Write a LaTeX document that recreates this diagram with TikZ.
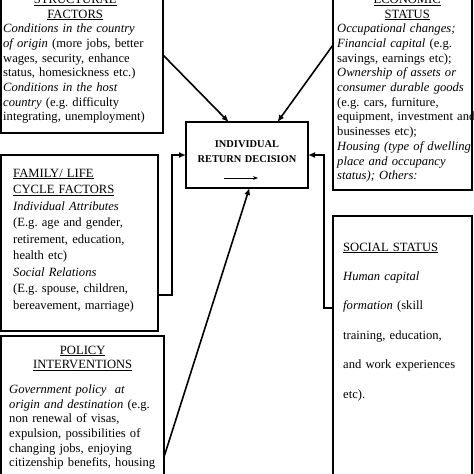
\documentclass[tikz,border=0pt]{standalone}
\usepackage{fontspec}
\setmainfont{Liberation Serif}
\usetikzlibrary{arrows.meta, positioning, calc}
\frenchspacing

\begin{document}
\begin{tikzpicture}[
    x=1pt, y=-1pt,
    box/.style={draw, line width=1.8pt, anchor=north west, inner sep=0pt, outer sep=0pt},
    txt/.style={anchor=base west, inner sep=0pt, text width=200pt, align=left, font=\fontsize{12.6}{14.7}\selectfont},
    arr/.style={-{Latex[length=7pt, width=6pt]}, line width=1.6pt}
]
    \useasboundingbox (0,0) rectangle (474,474);
    \clip (0,0) rectangle (474,474);

    % boxes
    \node[box, minimum width=162pt, minimum height=156pt] (struct) at (1,-23) {};
    \node[box, minimum width=139pt, minimum height=290pt] (econ) at (333,-100) {};
    \node[box, minimum width=157pt, minimum height=176pt] (family) at (1,155) {};
    \node[box, minimum width=163pt, minimum height=242pt] (policy) at (1,336) {};
    \node[box, minimum width=139pt, minimum height=300pt] (social) at (333,216) {};
    \node[box, minimum width=122pt, minimum height=66pt] (decision) at (186,122) {};

    % texts
    \node[txt] (structtxt) at (3,3.3) {\makebox[144pt]{\underline{STRUCTURAL}}\\
        \makebox[144pt]{\underline{FACTORS}}\\
        \textit{Conditions in the country}\\
        \textit{of origin} (more jobs, better\\
        wages, security, enhance\\
        status, homesickness etc.)\\
        \textit{Conditions in the host}\\
        \textit{country} (e.g. difficulty\\
        integrating, unemployment)};
    \node[txt] (econtxt) at (337,3.3) {\makebox[140pt]{\underline{ECONOMIC}}\\
        \makebox[140pt]{\underline{STATUS}}\\
        \textit{Occupational changes;}\\
        \textit{Financial capital} (e.g.\\
        savings, earnings etc);\\
        \textit{Ownership of assets or}\\
        \textit{consumer durable goods}\\
        (e.g. cars, furniture,\\
        equipment, investment and\\
        businesses etc);\\
        \textit{Housing (type of dwelling}\\
        \textit{place and occupancy}\\
        \textit{status); Others:}};
    \node[txt, font=\fontsize{12.6}{16.5}\selectfont] (familytxt) at (13,177) {\underline{FAMILY/ LIFE}\\
        \underline{CYCLE FACTORS}\\
        \textit{Individual Attributes}\\
        (E.g. age and gender,\\
        retirement, education,\\
        health etc)\\
        \textit{Social Relations}\\
        (E.g. spouse, children,\\
        bereavement, marriage)};
    \node[txt] (policytxt) at (9,354) {\makebox[147pt]{\underline{POLICY}}\\
        \makebox[147pt]{\underline{INTERVENTIONS}}\\[10pt]
        \textit{Government policy\ \ at}\\
        \textit{origin and destination} (e.g.\\
        non renewal of visas,\\
        expulsion, possibilities of\\
        changing jobs, enjoying\\
        citizenship benefits, housing};
    \node[txt, font=\fontsize{12.6}{29.4}\selectfont] (socialtxt) at (343,251) {\underline{SOCIAL STATUS}\\
        \textit{Human capital}\\
        \textit{formation} (skill\\
        training, education,\\
        and work experiences\\
        etc).};
    \node[anchor=base, inner sep=0pt, text width=122pt, align=center, font=\bfseries\fontsize{10.4}{15}\selectfont] (dectxt)
        at ($(decision.north)+(0,25)$) {INDIVIDUAL\\RETURN DECISION};

    % connectors
    \draw[arr] (struct.east) -- ($(decision.north west)!0.35!(decision.north east)$);
    \draw[arr] (econ.west) -- ($(decision.north west)!0.75!(decision.north east)$);
    \draw[arr] ($(family.south east)+(0,-36)$) -- ++(14,0) |- (decision.west);
    \draw[arr] ($(social.north west)+(0,92)$) -- ++(-9,0) |- (decision.east);
    \draw[arr] (policy.east) -- ($(decision.south west)!0.52!(decision.south east)$);
    \draw[-{Stealth[length=5pt]}, semithick] ($(decision.center)+(-23,23)$) -- ++(34,0);
\end{tikzpicture}
\end{document}
